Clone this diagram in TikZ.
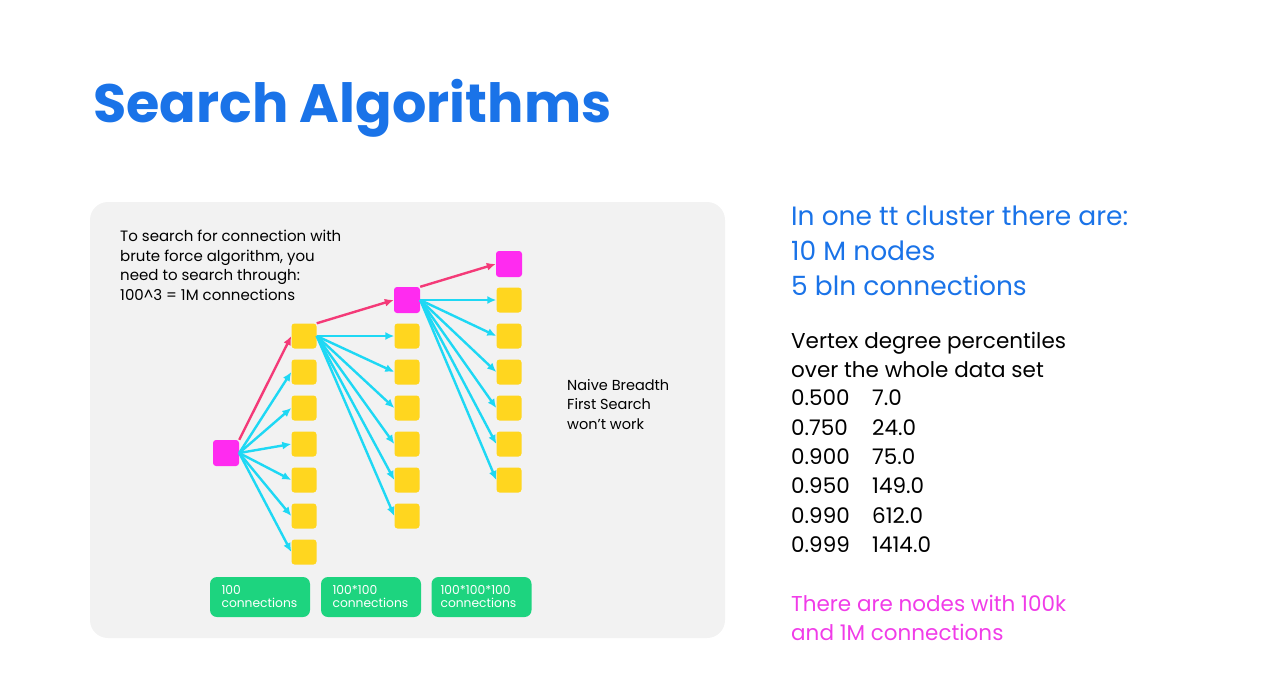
\documentclass[tikz,border=0pt]{standalone}
\usepackage{fontspec}
\setmainfont{Poppins}
\usetikzlibrary{arrows.meta}
\definecolor{tblue}{HTML}{1A73E8}
\definecolor{pinkc}{HTML}{F03CE8}
\definecolor{magn}{HTML}{FF2BF0}
\definecolor{yel}{HTML}{FFD61F}
\definecolor{cyanA}{HTML}{1ED8F4}
\definecolor{redA}{HTML}{F43A78}
\definecolor{grn}{HTML}{1DD47F}
\definecolor{panel}{HTML}{F2F2F2}
\tikzset{
 yb/.style={fill=yel,rounded corners=3pt,minimum size=25pt,inner sep=0pt},
 mb/.style={fill=magn,rounded corners=3pt,minimum size=26pt,inner sep=0pt},
 ca/.style={draw=cyanA,line width=2.4pt,-{Latex[length=9pt,width=8pt]}},
 ra/.style={draw=redA,line width=2.4pt,-{Latex[length=9pt,width=8pt]}},
 gb/.style={fill=grn,rounded corners=7pt,minimum width=100pt,minimum height=40pt,inner sep=0pt},
 gt/.style={text=white,font=\fontsize{12.3}{13}\selectfont,align=left,anchor=west},
 txt/.style={anchor=west,inner sep=0pt}
}
\begin{document}
\begin{tikzpicture}[x=1pt,y=-1pt]
\useasboundingbox (0,0) rectangle (1280,696);
\node[txt,text=tblue,font=\fontsize{54}{58}\selectfont\bfseries] (title) at (93,108) {Search Algorithms};
\fill[panel,rounded corners=18pt] (90,202) rectangle (725,638);
\node[txt,anchor=north west,align=left,font=\fontsize{15}{19.5}\selectfont] (intro) at (120,230) {To search for connection with\\brute force algorithm, you\\need to search through:\\100\^{}3 = 1M connections};
\node[txt,anchor=north west,align=left,font=\fontsize{14.5}{19.5}\selectfont] (naive) at (567,379) {Naive Breadth\\First Search\\won’t work};
% nodes
\node[mb] (r) at (226,453) {};
\foreach \i/\y in {1/336,2/372,3/408,4/444,5/480,6/516,7/552} \node[yb] (a\i) at (304,\y) {};
\node[mb] (b0) at (407,300) {};
\foreach \i/\y in {1/336,2/372,3/408,4/444,5/480,6/516} \node[yb] (b\i) at (407,\y) {};
\node[mb] (c0) at (509,264) {};
\foreach \i/\y in {1/300,2/336,3/372,4/408,5/444,6/480} \node[yb] (c\i) at (509,\y) {};
% arrows
\draw[ra] (r.north east) -- (a1.west);
\foreach \i in {2,...,7} \draw[ca] (r.east) -- (a\i.west);
\draw[ra] (a1.north east) -- (b0.west);
\foreach \i in {1,...,6} \draw[ca] (a1.east) -- (b\i.west);
\draw[ra] (b0.north east) -- (c0.west);
\foreach \i in {1,...,6} \draw[ca] (b0.east) -- (c\i.west);
% green
\node[gb] (g1) at (260,597) {};
\node[gt] at (218,597) {100\\connections};
\node[gb] (g2) at (371,597) {};
\node[gt] at (329,597) {100*100\\connections};
\node[gb] (g3) at (481.5,597) {};
\node[gt] at (437,597) {100*100*100\\connections};
% right
\node[txt,anchor=north west,align=left,text=tblue,font=\fontsize{26.5}{35}\selectfont] (info) at (791,206) {In one tt cluster there are:\\10 M nodes\\5 bln connections};
\node[txt,anchor=north west,align=left,font=\fontsize{21.5}{29.3}\selectfont] (vd) at (791,332) {Vertex degree percentiles\\over the whole data set};
\foreach \p/\v [count=\k] in {0.500/7.0,0.750/24.0,0.900/75.0,0.950/149.0,0.990/612.0,0.999/1414.0}{
 \node[txt,font=\fontsize{21.5}{24}\selectfont] at (791,{398+(\k-1)*29.3}) {\p};
 \node[txt,font=\fontsize{21.5}{24}\selectfont] at (872,{398+(\k-1)*29.3}) {\v};
}
\node[txt,anchor=north west,align=left,text=pinkc,font=\fontsize{21.5}{29.3}\selectfont] (pk) at (791,595) {There are nodes with 100k\\and 1M connections};
\end{tikzpicture}
\end{document}
